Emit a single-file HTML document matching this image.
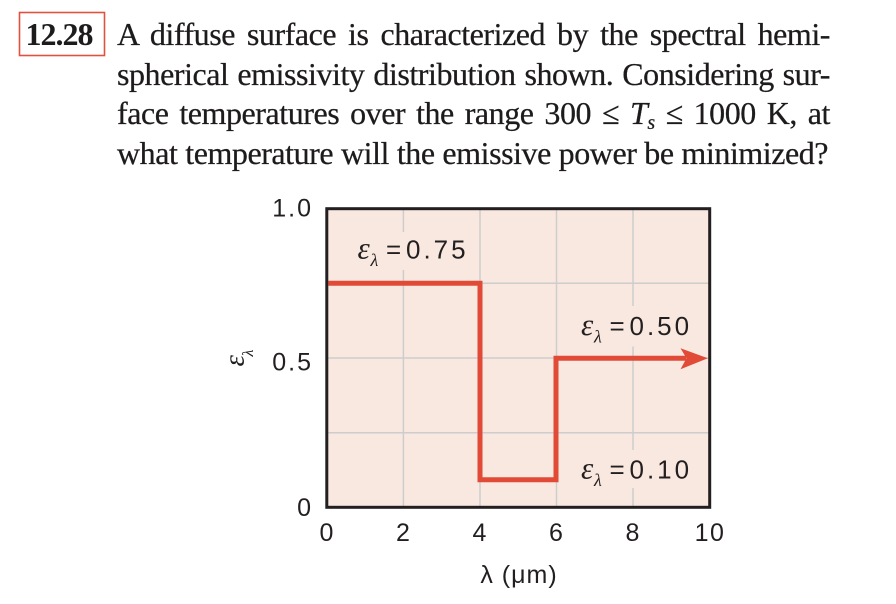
<!DOCTYPE html>
<html>
<head>
<meta charset="utf-8">
<style>
  html,body{margin:0;padding:0;background:#fff;}
  body{width:896px;height:604px;position:relative;overflow:hidden;}
  .l{position:absolute;left:117px;width:713px;font-family:"Liberation Serif",serif;font-size:32px;line-height:32px;letter-spacing:-0.45px;color:#1e1b1c;text-align:justify;text-align-last:justify;-webkit-text-stroke:0.25px #1e1b1c;}
  .l i sub{font-size:20px;position:relative;top:5px;vertical-align:baseline;line-height:0;}
  svg{position:absolute;left:0;top:0;}
</style>
</head>
<body>
<svg width="896" height="604" viewBox="0 0 896 604" xmlns="http://www.w3.org/2000/svg">
  <!-- problem number box -->
  <rect x="19.5" y="12.5" width="85" height="43" fill="none" stroke="#e0513f" stroke-width="1.6"/>
  <text x="25.5" y="45" font-family="Liberation Serif, serif" font-weight="bold" font-size="32" letter-spacing="-1" fill="#1e1b1c">12.28</text>

  <!-- plot area -->
  <rect x="326.8" y="208.7" width="382.9" height="298.6" fill="#f9e8df"/>
  <!-- grid -->
  <g stroke="#cdcdcd" stroke-width="1.5">
    <line x1="403.4" y1="209" x2="403.4" y2="507"/>
    <line x1="480" y1="209" x2="480" y2="507"/>
    <line x1="556.5" y1="209" x2="556.5" y2="507"/>
    <line x1="633" y1="209" x2="633" y2="507"/>
    <line x1="327" y1="283.3" x2="709" y2="283.3"/>
    <line x1="327" y1="358" x2="709" y2="358"/>
    <line x1="327" y1="432.7" x2="709" y2="432.7"/>
  </g>
  <!-- label backgrounds -->
  <rect x="352" y="232" width="122" height="38" fill="#f9e8df"/>
  <rect x="575" y="306" width="125" height="40.5" fill="#f9e8df"/>
  <rect x="575" y="450" width="125" height="38" fill="#f9e8df"/>

  <!-- red step curve -->
  <polyline points="328.3,283.3 480,283.3 480,479.8 556,479.8 556,358.3 686,358.3" fill="none" stroke="#e04a37" stroke-width="5" stroke-linejoin="miter"/>
  <polygon points="680.5,348.3 707.8,358.3 680.5,369.3 686.5,358.3" fill="#e04a37"/>

  <!-- frame -->
  <rect x="326.8" y="208.7" width="382.9" height="298.6" fill="none" stroke="#231f20" stroke-width="3"/>

  <!-- in-plot labels -->
  <g fill="#231f20">
    <text x="357.5" y="258.3" font-family="Liberation Serif, serif" font-style="italic" font-size="31">ε</text>
    <text x="370.5" y="266" font-family="Liberation Serif, serif" font-style="italic" font-size="18">λ</text>
    <text x="386" y="258.3" font-family="Liberation Sans, sans-serif" font-size="26">=</text>
    <text x="406" y="258.3" font-family="Liberation Sans, sans-serif" font-size="26" letter-spacing="3">0.75</text>

    <text x="581" y="335" font-family="Liberation Serif, serif" font-style="italic" font-size="31">ε</text>
    <text x="594" y="342.7" font-family="Liberation Serif, serif" font-style="italic" font-size="18">λ</text>
    <text x="609.5" y="335" font-family="Liberation Sans, sans-serif" font-size="26">=</text>
    <text x="629.5" y="335" font-family="Liberation Sans, sans-serif" font-size="26" letter-spacing="3">0.50</text>

    <text x="581" y="478.3" font-family="Liberation Serif, serif" font-style="italic" font-size="31">ε</text>
    <text x="594" y="486" font-family="Liberation Serif, serif" font-style="italic" font-size="18">λ</text>
    <text x="609.5" y="478.3" font-family="Liberation Sans, sans-serif" font-size="26">=</text>
    <text x="629.5" y="478.3" font-family="Liberation Sans, sans-serif" font-size="26" letter-spacing="3">0.10</text>
  </g>

  <!-- y tick labels -->
  <g fill="#231f20" font-family="Liberation Sans, sans-serif" font-size="25" letter-spacing="2" text-anchor="end">
    <text x="313" y="216.7">1.0</text>
    <text x="313" y="370.7">0.5</text>
    <text x="313" y="516">0</text>
  </g>
  <!-- x tick labels -->
  <g fill="#231f20" font-family="Liberation Sans, sans-serif" font-size="25" text-anchor="middle">
    <text x="326.5" y="541">0</text>
    <text x="403" y="541">2</text>
    <text x="479.5" y="541">4</text>
    <text x="556" y="541">6</text>
    <text x="632.5" y="541">8</text>
    <text x="710" y="541" letter-spacing="1.5">10</text>
  </g>
  <!-- x axis title -->
  <text x="519" y="583" fill="#231f20" font-family="Liberation Sans, sans-serif" font-size="25" letter-spacing="1" text-anchor="middle">λ (μm)</text>

  <!-- y axis title rotated -->
  <g transform="translate(243.5,366.5) rotate(-90)" fill="#231f20">
    <text x="0" y="0" font-family="Liberation Serif, serif" font-style="italic" font-size="29">ε</text>
    <text x="10" y="9.5" font-family="Liberation Serif, serif" font-style="italic" font-size="16">λ</text>
  </g>
</svg>

<div class="l" style="top:18.2px;">A diffuse surface is characterized by the spectral hemi-</div>
<div class="l" style="top:57.8px;">spherical emissivity distribution shown. Considering sur-</div>
<div class="l" style="top:97.4px;">face temperatures over the range 300 ≤ <i>T<sub>s</sub></i> ≤ 1000 K, at</div>
<div class="l" style="top:137px;width:711px;">what temperature will the emissive power be minimized?</div>
</body>
</html>
